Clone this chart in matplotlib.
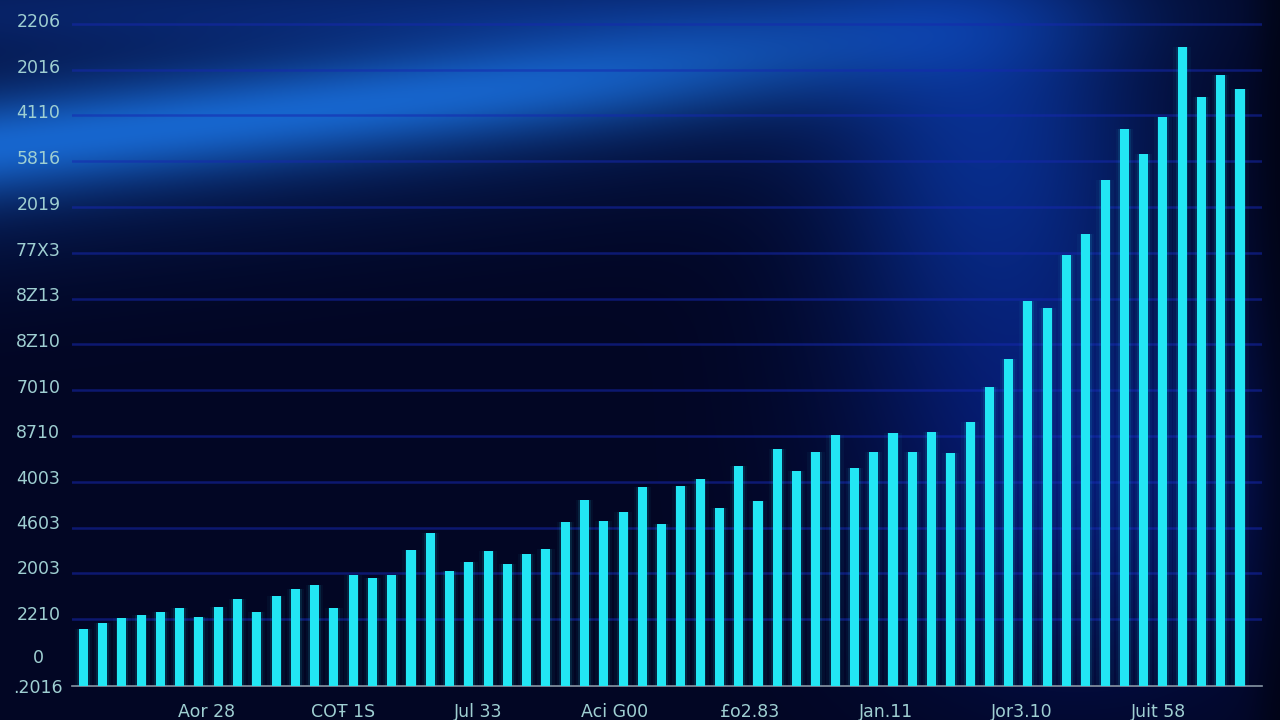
import numpy as np
import matplotlib
matplotlib.use("Agg")
import matplotlib.pyplot as plt

# ---------------- data ----------------
values = [1.24, 1.37, 1.49, 1.54, 1.61, 1.70, 1.50, 1.72, 1.89, 1.62,
          1.97, 2.11, 2.21, 1.70, 2.42, 2.35, 2.42, 2.97, 3.34, 2.51,
          2.71, 2.95, 2.67, 2.88, 3.00, 3.59, 4.06, 3.60, 3.79, 4.34,
          3.54, 4.36, 4.51, 3.88, 4.81, 4.03, 5.17, 4.69, 5.10, 5.47,
          4.76, 5.10, 5.52, 5.12, 5.55, 5.09, 5.77, 6.53, 7.13, 8.41,
          8.26, 9.41, 9.86, 11.05, 12.16, 11.61, 12.43, 13.96, 12.87, 13.33,
          13.03]

ytick_values = [0, 0.65, 1.59, 2.59, 3.58, 4.57, 5.57, 6.56, 7.55, 8.55,
                9.55, 10.55, 11.55, 12.55, 13.54, 14.54]
ytick_labels = [".2016", "0", "2210", "2003", "4603", "4003", "8710", "7010",
                "8Z10", "8Z13", "77X3", "2019", "5816", "4110", "2016", "2206"]
grid_values = [1.46 + k for k in range(14)]

xtick_values = [6.4 + 7.05 * k for k in range(8)]
xtick_labels = ["Aor 28", "COŦ 1S", "Jul 33", "Aci G00", "£o2.83",
                "Jan.11", "Jor3.10", "Juit 58"]

# ---------------- figure ----------------
W, H = 1280, 720
fig = plt.figure(figsize=(W / 100, H / 100), dpi=100)

# background glow image (decoration only)
yy, xx = np.mgrid[0:H, 0:W].astype(float)
bg = np.zeros((H, W, 3))
bg[:] = np.array([2, 6, 36]) / 255.0

def add(color, weight):
    global bg
    bg = bg + weight[..., None] * (np.array(color) / 255.0)

line_y = 145 - 0.11 * xx
d = (yy - line_y)
fade = 1 / (1 + np.exp((xx - 800) / 110.0))
add((16, 70, 112), np.exp(-(d / 50.0) ** 2) * fade)
add((5, 26, 58), np.exp(-(d / 115.0) ** 2) * (1 / (1 + np.exp((xx - 900) / 130.0))))
add((4, 22, 52), np.exp(-((yy - 5) / 50.0) ** 2) * (1 / (1 + np.exp((xx - 950) / 120.0))))
add((6, 40, 105), np.exp(-((xx - 990) / 160.0) ** 2 - ((yy - 150) / 230.0) ** 2) * 0.9)
add((4, 20, 85), np.exp(-((xx - 1080) / 200.0) ** 2 - ((yy - 480) / 190.0) ** 2) * 0.85)
bg = bg * (1 - 0.5 * (1 / (1 + np.exp(-(xx - 1262) / 10.0))))[..., None]
bg = np.clip(bg, 0, 1)

bg_ax = fig.add_axes([0, 0, 1, 1], zorder=0)
bg_ax.imshow(bg, aspect="auto", extent=(0, 1, 0, 1), origin="upper")
bg_ax.set_axis_off()

left_px, right_px, base_px = 71.7, 1261.7, 686.0
unit_px = 45.8
ax = fig.add_axes([left_px / W, (H - base_px) / H,
                   (right_px - left_px) / W, base_px / H], zorder=1)
ax.patch.set_alpha(0)

x = np.arange(len(values))
ax.set_xlim(-0.6, len(values) - 1 + (right_px - 1240) / 19.28)
ax.set_ylim(0, base_px / unit_px)

for g in grid_values:
    ax.axhline(g, color="#1628b0", lw=1.8, alpha=0.55, zorder=1)

cyan = "#22e6f4"
ax.bar(x, values, width=0.9, color=cyan, alpha=0.04, zorder=2, linewidth=0)
ax.bar(x, values, width=0.65, color=cyan, alpha=0.10, zorder=2, linewidth=0)
ax.bar(x, values, width=0.47, color=cyan, zorder=3, linewidth=0)

for s in ["top", "right", "left"]:
    ax.spines[s].set_visible(False)
ax.spines["bottom"].set_color("#8796a4")
ax.spines["bottom"].set_linewidth(1.2)

txt_color = "#9fcfd2"
font = ["Liberation Sans Narrow", "DejaVu Sans"]
ax.set_yticks(ytick_values)
ax.set_yticklabels(ytick_labels, fontsize=12.5, color=txt_color, family=font)
ax.tick_params(axis="y", length=0, pad=24)
for lab in ax.get_yticklabels():
    lab.set_ha("center")

ax.set_xticks(xtick_values)
ax.set_xticklabels(xtick_labels, fontsize=12.5, color=txt_color, family=font)
ax.tick_params(axis="x", length=0, pad=12)

fig.savefig("out.png", dpi=100)
